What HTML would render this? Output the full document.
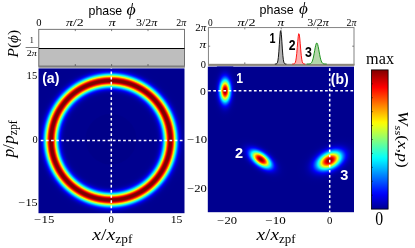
<!DOCTYPE html><html><head><meta charset="utf-8"><title>figure</title><style>html,body{margin:0;padding:0;background:#fff}svg{display:block}text{white-space:pre}</style></head><body>
<svg width="415" height="248" viewBox="0 0 415 248">
<defs>
<radialGradient id="ring" gradientUnits="userSpaceOnUse" cx="110.75" cy="140.30" r="110.00"><stop offset="0.0000" stop-color="#00008f"/><stop offset="0.3750" stop-color="#00008f"/><stop offset="0.3800" stop-color="#000090"/><stop offset="0.3950" stop-color="#000090"/><stop offset="0.4000" stop-color="#000091"/><stop offset="0.4050" stop-color="#000091"/><stop offset="0.4100" stop-color="#000092"/><stop offset="0.4150" stop-color="#000094"/><stop offset="0.4200" stop-color="#000096"/><stop offset="0.4250" stop-color="#00009a"/><stop offset="0.4300" stop-color="#00009f"/><stop offset="0.4350" stop-color="#0000a5"/><stop offset="0.4400" stop-color="#0000af"/><stop offset="0.4450" stop-color="#0000bb"/><stop offset="0.4500" stop-color="#0000cb"/><stop offset="0.4550" stop-color="#0000e0"/><stop offset="0.4600" stop-color="#0000fb"/><stop offset="0.4650" stop-color="#001cff"/><stop offset="0.4700" stop-color="#0044ff"/><stop offset="0.4750" stop-color="#0074ff"/><stop offset="0.4800" stop-color="#00abff"/><stop offset="0.4850" stop-color="#00e9ff"/><stop offset="0.4900" stop-color="#30ffcf"/><stop offset="0.4950" stop-color="#7bff84"/><stop offset="0.5000" stop-color="#caff35"/><stop offset="0.5050" stop-color="#ffe300"/><stop offset="0.5100" stop-color="#ff9300"/><stop offset="0.5150" stop-color="#ff4600"/><stop offset="0.5200" stop-color="#ff0100"/><stop offset="0.5250" stop-color="#c40000"/><stop offset="0.5300" stop-color="#940000"/><stop offset="0.5350" stop-color="#800000"/><stop offset="0.5500" stop-color="#800000"/><stop offset="0.5550" stop-color="#980000"/><stop offset="0.5600" stop-color="#c90000"/><stop offset="0.5650" stop-color="#ff0700"/><stop offset="0.5700" stop-color="#ff4d00"/><stop offset="0.5750" stop-color="#ff9a00"/><stop offset="0.5800" stop-color="#ffeb00"/><stop offset="0.5850" stop-color="#c3ff3c"/><stop offset="0.5900" stop-color="#74ff8b"/><stop offset="0.5950" stop-color="#29ffd6"/><stop offset="0.6000" stop-color="#00e3ff"/><stop offset="0.6050" stop-color="#00a5ff"/><stop offset="0.6100" stop-color="#006fff"/><stop offset="0.6150" stop-color="#0040ff"/><stop offset="0.6200" stop-color="#0019ff"/><stop offset="0.6250" stop-color="#0000f8"/><stop offset="0.6300" stop-color="#0000de"/><stop offset="0.6350" stop-color="#0000c9"/><stop offset="0.6400" stop-color="#0000ba"/><stop offset="0.6450" stop-color="#0000ae"/><stop offset="0.6500" stop-color="#0000a5"/><stop offset="0.6550" stop-color="#00009e"/><stop offset="0.6600" stop-color="#000099"/><stop offset="0.6650" stop-color="#000096"/><stop offset="0.6700" stop-color="#000094"/><stop offset="0.6750" stop-color="#000092"/><stop offset="0.6800" stop-color="#000091"/><stop offset="0.6850" stop-color="#000091"/><stop offset="0.6900" stop-color="#000090"/><stop offset="0.7050" stop-color="#000090"/><stop offset="0.7100" stop-color="#00008f"/><stop offset="1.0000" stop-color="#00008f"/></radialGradient>
<radialGradient id="bg1" gradientUnits="objectBoundingBox" cx="0.5" cy="0.5" r="0.5"><stop offset="0.0000" stop-color="#800000"/><stop offset="0.0167" stop-color="#820000"/><stop offset="0.0333" stop-color="#880000"/><stop offset="0.0500" stop-color="#930000"/><stop offset="0.0667" stop-color="#a30000"/><stop offset="0.0833" stop-color="#b60000"/><stop offset="0.1000" stop-color="#cd0000"/><stop offset="0.1167" stop-color="#e70000"/><stop offset="0.1333" stop-color="#ff0600"/><stop offset="0.1500" stop-color="#ff2600"/><stop offset="0.1667" stop-color="#ff4900"/><stop offset="0.1833" stop-color="#ff6d00"/><stop offset="0.2000" stop-color="#ff9300"/><stop offset="0.2167" stop-color="#ffbb00"/><stop offset="0.2333" stop-color="#ffe300"/><stop offset="0.2500" stop-color="#f2ff0d"/><stop offset="0.2667" stop-color="#caff35"/><stop offset="0.2833" stop-color="#a2ff5d"/><stop offset="0.3000" stop-color="#7aff85"/><stop offset="0.3167" stop-color="#54ffab"/><stop offset="0.3333" stop-color="#2effd1"/><stop offset="0.3500" stop-color="#0afff5"/><stop offset="0.3667" stop-color="#00e7ff"/><stop offset="0.3833" stop-color="#00c6ff"/><stop offset="0.4000" stop-color="#00a8ff"/><stop offset="0.4167" stop-color="#008bff"/><stop offset="0.4333" stop-color="#0070ff"/><stop offset="0.4500" stop-color="#0057ff"/><stop offset="0.4667" stop-color="#0040ff"/><stop offset="0.4833" stop-color="#002bff"/><stop offset="0.5000" stop-color="#0018ff"/><stop offset="0.5167" stop-color="#0007ff"/><stop offset="0.5333" stop-color="#0000f7"/><stop offset="0.5500" stop-color="#0000e9"/><stop offset="0.5667" stop-color="#0000dc"/><stop offset="0.5833" stop-color="#0000d1"/><stop offset="0.6000" stop-color="#0000c8"/><stop offset="0.6167" stop-color="#0000bf"/><stop offset="0.6333" stop-color="#0000b8"/><stop offset="0.6500" stop-color="#0000b2"/><stop offset="0.6667" stop-color="#0000ac"/><stop offset="0.6833" stop-color="#0000a7"/><stop offset="0.7000" stop-color="#0000a3"/><stop offset="0.7167" stop-color="#0000a0"/><stop offset="0.7333" stop-color="#00009d"/><stop offset="0.7500" stop-color="#00009b"/><stop offset="0.7667" stop-color="#000099"/><stop offset="0.7833" stop-color="#000097"/><stop offset="0.8000" stop-color="#000095"/><stop offset="0.8167" stop-color="#000094"/><stop offset="0.8333" stop-color="#000093"/><stop offset="0.8500" stop-color="#000093"/><stop offset="0.8667" stop-color="#000092"/><stop offset="0.8833" stop-color="#000091"/><stop offset="0.9000" stop-color="#000091"/><stop offset="0.9167" stop-color="#000091"/><stop offset="0.9333" stop-color="#000090"/><stop offset="0.9500" stop-color="#000090"/><stop offset="0.9667" stop-color="#000090"/><stop offset="0.9833" stop-color="#000090"/><stop offset="1.0000" stop-color="#000090"/></radialGradient>
<linearGradient id="cb" x1="0" y1="0" x2="0" y2="1"><stop offset="0.0000" stop-color="#800000"/><stop offset="0.0250" stop-color="#990000"/><stop offset="0.0500" stop-color="#b20000"/><stop offset="0.0750" stop-color="#cb0000"/><stop offset="0.1000" stop-color="#e40000"/><stop offset="0.1250" stop-color="#fd0000"/><stop offset="0.1500" stop-color="#ff1700"/><stop offset="0.1750" stop-color="#ff3000"/><stop offset="0.2000" stop-color="#ff4900"/><stop offset="0.2250" stop-color="#ff6200"/><stop offset="0.2500" stop-color="#ff7c00"/><stop offset="0.2750" stop-color="#ff9500"/><stop offset="0.3000" stop-color="#ffae00"/><stop offset="0.3250" stop-color="#ffc700"/><stop offset="0.3500" stop-color="#ffe000"/><stop offset="0.3750" stop-color="#fff900"/><stop offset="0.4000" stop-color="#ecff13"/><stop offset="0.4250" stop-color="#d3ff2c"/><stop offset="0.4500" stop-color="#baff45"/><stop offset="0.4750" stop-color="#a1ff5e"/><stop offset="0.5000" stop-color="#87ff78"/><stop offset="0.5250" stop-color="#6eff91"/><stop offset="0.5500" stop-color="#55ffaa"/><stop offset="0.5750" stop-color="#3cffc3"/><stop offset="0.6000" stop-color="#23ffdc"/><stop offset="0.6250" stop-color="#0afff5"/><stop offset="0.6500" stop-color="#00f0ff"/><stop offset="0.6750" stop-color="#00d7ff"/><stop offset="0.7000" stop-color="#00beff"/><stop offset="0.7250" stop-color="#00a5ff"/><stop offset="0.7500" stop-color="#008bff"/><stop offset="0.7750" stop-color="#0072ff"/><stop offset="0.8000" stop-color="#0059ff"/><stop offset="0.8250" stop-color="#0040ff"/><stop offset="0.8500" stop-color="#0027ff"/><stop offset="0.8750" stop-color="#000eff"/><stop offset="0.9000" stop-color="#0000f4"/><stop offset="0.9250" stop-color="#0000db"/><stop offset="0.9500" stop-color="#0000c2"/><stop offset="0.9750" stop-color="#0000a9"/><stop offset="1.0000" stop-color="#00008f"/></linearGradient>
</defs>
<rect width="415" height="248" fill="#fff"/>
<rect x="38.80" y="48.50" width="145.70" height="17.70" fill="#bebebe"/>
<rect x="38.80" y="29.30" width="145.70" height="36.90" fill="none" stroke="#555" stroke-width="0.8"/>
<line x1="38.80" y1="48.50" x2="184.50" y2="48.50" stroke="#000" stroke-width="1.1"/>
<rect x="38.40" y="65.7" width="146.50" height="2.0" fill="#808080"/>
<line x1="75.30" y1="29.30" x2="75.30" y2="31.10" stroke="#444" stroke-width="0.7"/>
<line x1="75.30" y1="65.80" x2="75.30" y2="64.20" stroke="#333" stroke-width="0.7"/>
<line x1="111.60" y1="29.30" x2="111.60" y2="31.10" stroke="#444" stroke-width="0.7"/>
<line x1="111.60" y1="65.80" x2="111.60" y2="64.20" stroke="#333" stroke-width="0.7"/>
<line x1="148.00" y1="29.30" x2="148.00" y2="31.10" stroke="#444" stroke-width="0.7"/>
<line x1="148.00" y1="65.80" x2="148.00" y2="64.20" stroke="#333" stroke-width="0.7"/>
<rect x="38.50" y="68.40" width="146.00" height="144.80" fill="url(#ring)"/>
<circle cx="111" cy="139.3" r="25.5" fill="#000040" opacity="0.07"/>
<line x1="38.50" y1="140.5" x2="184.50" y2="140.5" stroke="#fff" stroke-width="1.5" stroke-dasharray="2.7 2.45" stroke-dashoffset="2.9"/>
<line x1="111.3" y1="68.40" x2="111.3" y2="213.20" stroke="#fff" stroke-width="1.5" stroke-dasharray="2.7 2.45" stroke-dashoffset="2.0"/>
<rect x="208.40" y="27.60" width="145.60" height="37.10" fill="#fff" stroke="#777" stroke-width="0.9"/>
<rect x="208.00" y="63.8" width="146.40" height="2.1" fill="#8c877c"/>
<line x1="244.80" y1="27.60" x2="244.80" y2="29.40" stroke="#555" stroke-width="0.7"/>
<line x1="244.80" y1="64.00" x2="244.80" y2="62.40" stroke="#444" stroke-width="0.7"/>
<line x1="281.20" y1="27.60" x2="281.20" y2="29.40" stroke="#555" stroke-width="0.7"/>
<line x1="281.20" y1="64.00" x2="281.20" y2="62.40" stroke="#444" stroke-width="0.7"/>
<line x1="317.60" y1="27.60" x2="317.60" y2="29.40" stroke="#555" stroke-width="0.7"/>
<line x1="317.60" y1="64.00" x2="317.60" y2="62.40" stroke="#444" stroke-width="0.7"/>
<line x1="208.40" y1="46.2" x2="210.20" y2="46.2" stroke="#555" stroke-width="0.7"/>
<line x1="354.00" y1="46.2" x2="352.20" y2="46.2" stroke="#555" stroke-width="0.7"/>
<path d="M274.85,64.00 L275.35,63.99 L275.85,63.97 L276.35,63.88 L276.85,63.58 L277.35,62.78 L277.85,60.95 L278.35,57.42 L278.85,51.76 L279.35,44.35 L279.85,36.79 L280.35,31.50 L280.85,30.52 L281.35,34.26 L281.85,41.21 L282.35,48.94 L282.85,55.42 L283.35,59.78 L283.85,62.21 L284.35,63.35 L284.85,63.79 L285.35,63.94 L285.85,63.99 L286.35,64.00 Z" fill="#b4b4b4" stroke="none"/>
<path d="M274.85,64.00 L275.35,63.99 L275.85,63.97 L276.35,63.88 L276.85,63.58 L277.35,62.78 L277.85,60.95 L278.35,57.42 L278.85,51.76 L279.35,44.35 L279.85,36.79 L280.35,31.50 L280.85,30.52 L281.35,34.26 L281.85,41.21 L282.35,48.94 L282.85,55.42 L283.35,59.78 L283.85,62.21 L284.35,63.35 L284.85,63.79 L285.35,63.94 L285.85,63.99 L286.35,64.00" fill="none" stroke="#000" stroke-width="0.9"/>
<path d="M292.24,64.00 L292.74,63.99 L293.24,63.98 L293.74,63.93 L294.24,63.79 L294.74,63.41 L295.24,62.57 L295.74,60.88 L296.24,57.93 L296.74,53.49 L297.24,47.74 L297.74,41.57 L298.24,36.39 L298.74,33.68 L299.24,34.29 L299.74,38.04 L300.24,43.76 L300.74,49.92 L301.24,55.26 L301.74,59.16 L302.24,61.61 L302.74,62.95 L303.24,63.59 L303.74,63.85 L304.24,63.95 L304.74,63.99 L305.24,64.00 Z" fill="#f9b0b0" stroke="none"/>
<path d="M292.24,64.00 L292.74,63.99 L293.24,63.98 L293.74,63.93 L294.24,63.79 L294.74,63.41 L295.24,62.57 L295.74,60.88 L296.24,57.93 L296.74,53.49 L297.24,47.74 L297.74,41.57 L298.24,36.39 L298.74,33.68 L299.24,34.29 L299.74,38.04 L300.24,43.76 L300.74,49.92 L301.24,55.26 L301.74,59.16 L302.24,61.61 L302.74,62.95 L303.24,63.59 L303.74,63.85 L304.24,63.95 L304.74,63.99 L305.24,64.00" fill="none" stroke="#f00" stroke-width="0.9"/>
<path d="M306.68,64.00 L307.18,64.00 L307.68,63.99 L308.18,63.99 L308.68,63.97 L309.18,63.93 L309.68,63.86 L310.18,63.72 L310.68,63.48 L311.18,63.08 L311.68,62.43 L312.18,61.46 L312.68,60.09 L313.18,58.26 L313.68,56.00 L314.18,53.37 L314.68,50.56 L315.18,47.82 L315.68,45.47 L316.18,43.79 L316.68,43.03 L317.18,43.29 L317.68,44.53 L318.18,46.58 L318.68,49.16 L319.18,51.97 L319.68,54.72 L320.18,57.18 L320.68,59.23 L321.18,60.83 L321.68,61.99 L322.18,62.79 L322.68,63.31 L323.18,63.62 L323.68,63.80 L324.18,63.90 L324.68,63.95 L325.18,63.98 L325.68,63.99 L326.18,64.00 L326.68,64.00 Z" fill="#b4d6aa" stroke="none"/>
<path d="M306.68,64.00 L307.18,64.00 L307.68,63.99 L308.18,63.99 L308.68,63.97 L309.18,63.93 L309.68,63.86 L310.18,63.72 L310.68,63.48 L311.18,63.08 L311.68,62.43 L312.18,61.46 L312.68,60.09 L313.18,58.26 L313.68,56.00 L314.18,53.37 L314.68,50.56 L315.18,47.82 L315.68,45.47 L316.18,43.79 L316.68,43.03 L317.18,43.29 L317.68,44.53 L318.18,46.58 L318.68,49.16 L319.18,51.97 L319.68,54.72 L320.18,57.18 L320.68,59.23 L321.18,60.83 L321.68,61.99 L322.18,62.79 L322.68,63.31 L323.18,63.62 L323.68,63.80 L324.18,63.90 L324.68,63.95 L325.18,63.98 L325.68,63.99 L326.18,64.00 L326.68,64.00" fill="none" stroke="#0a8a0a" stroke-width="0.9"/>
<rect x="207.80" y="66.60" width="146.20" height="145.60" fill="#00008f"/>
<clipPath id="rc"><rect x="207.80" y="66.60" width="146.20" height="145.60"/></clipPath>
<g clip-path="url(#rc)">
<ellipse cx="0" cy="0" rx="30.00" ry="14.00" fill="url(#bg1)" transform="translate(225.10 90.80) rotate(90.00)"/>
<ellipse cx="0" cy="0" rx="31.20" ry="15.60" fill="url(#bg1)" transform="translate(260.90 159.40) rotate(36.50)"/>
<ellipse cx="0" cy="0" rx="34.80" ry="20.80" fill="url(#bg1)" transform="translate(329.40 160.50) rotate(-27.00)"/>
</g>
<line x1="208.20" y1="90.8" x2="354.00" y2="90.8" stroke="#fff" stroke-width="1.5" stroke-dasharray="2.7 2.38"/>
<line x1="329.7" y1="66.60" x2="329.7" y2="212.20" stroke="#fff" stroke-width="1.5" stroke-dasharray="2.7 2.38" stroke-dashoffset="3.4"/>
<rect x="371.40" y="69.90" width="16.70" height="139.20" fill="url(#cb)" stroke="#000" stroke-width="0.8"/>
<line x1="371.40" y1="83.82" x2="373.00" y2="83.82" stroke="#000" stroke-width="0.4"/>
<line x1="371.40" y1="97.74" x2="373.00" y2="97.74" stroke="#000" stroke-width="0.4"/>
<line x1="371.40" y1="111.66" x2="373.00" y2="111.66" stroke="#000" stroke-width="0.4"/>
<line x1="371.40" y1="125.58" x2="373.00" y2="125.58" stroke="#000" stroke-width="0.4"/>
<line x1="371.40" y1="139.50" x2="373.00" y2="139.50" stroke="#000" stroke-width="0.4"/>
<line x1="371.40" y1="153.42" x2="373.00" y2="153.42" stroke="#000" stroke-width="0.4"/>
<line x1="371.40" y1="167.34" x2="373.00" y2="167.34" stroke="#000" stroke-width="0.4"/>
<line x1="371.40" y1="181.26" x2="373.00" y2="181.26" stroke="#000" stroke-width="0.4"/>
<line x1="371.40" y1="195.18" x2="373.00" y2="195.18" stroke="#000" stroke-width="0.4"/>
<text x="88.50" y="14.50" textLength="33.70" lengthAdjust="spacingAndGlyphs" style="font-family:'Liberation Sans','DejaVu Sans',sans-serif;font-size:12.8px" >phase</text>
<text x="126.60" y="14.80" textLength="9.20" lengthAdjust="spacingAndGlyphs" style="font-family:'Liberation Serif','DejaVu Serif',serif;font-style:italic;font-size:16.6px" >ϕ</text>
<text x="259.60" y="13.80" textLength="34.10" lengthAdjust="spacingAndGlyphs" style="font-family:'Liberation Sans','DejaVu Sans',sans-serif;font-size:12.8px" >phase</text>
<text x="299.00" y="13.60" textLength="8.80" lengthAdjust="spacingAndGlyphs" style="font-family:'Liberation Serif','DejaVu Serif',serif;font-style:italic;font-size:16.6px" >ϕ</text>
<text x="36.30" y="26.40" textLength="5.30" lengthAdjust="spacingAndGlyphs" style="font-family:'Liberation Serif','DejaVu Serif',serif;font-size:10.3px" >0</text>
<text x="66.00" y="26.40" textLength="17.70" lengthAdjust="spacingAndGlyphs" style="font-family:'Liberation Serif','DejaVu Serif',serif;font-size:10.3px" ><tspan style="font-style:italic">π</tspan>/2</text>
<text x="108.70" y="26.40" textLength="6.90" lengthAdjust="spacingAndGlyphs" style="font-family:'Liberation Serif','DejaVu Serif',serif;font-size:10.3px" ><tspan style="font-style:italic">π</tspan></text>
<text x="136.00" y="26.40" textLength="21.40" lengthAdjust="spacingAndGlyphs" style="font-family:'Liberation Serif','DejaVu Serif',serif;font-size:10.3px" >3/2<tspan style="font-style:italic">π</tspan></text>
<text x="176.30" y="26.40" textLength="10.00" lengthAdjust="spacingAndGlyphs" style="font-family:'Liberation Serif','DejaVu Serif',serif;font-size:10.3px" >2<tspan style="font-style:italic">π</tspan></text>
<text x="29.80" y="43.40" textLength="4.00" lengthAdjust="spacingAndGlyphs" style="font-family:'Liberation Serif','DejaVu Serif',serif;font-size:8.5px" >1</text>
<line x1="25.6" y1="47.5" x2="38.1" y2="47.5" stroke="#000" stroke-width="0.5"/>
<text x="26.70" y="55.60" textLength="10.20" lengthAdjust="spacingAndGlyphs" style="font-family:'Liberation Serif','DejaVu Serif',serif;font-size:7.8px" >2<tspan style="font-style:italic">π</tspan></text>
<text transform="translate(18.00 57.50) rotate(-90)" textLength="27.60" lengthAdjust="spacingAndGlyphs" style="font-family:'Liberation Serif','DejaVu Serif',serif;font-size:15px"><tspan style="font-style:italic">P</tspan>(<tspan style="font-style:italic">ϕ</tspan>)</text>
<text x="26.60" y="79.00" textLength="10.60" lengthAdjust="spacingAndGlyphs" style="font-family:'Liberation Serif','DejaVu Serif',serif;font-size:10.3px" >15</text>
<text x="32.60" y="143.00" textLength="5.20" lengthAdjust="spacingAndGlyphs" style="font-family:'Liberation Serif','DejaVu Serif',serif;font-size:10.3px" >0</text>
<text x="18.50" y="205.90" textLength="19.10" lengthAdjust="spacingAndGlyphs" style="font-family:'Liberation Serif','DejaVu Serif',serif;font-size:10.3px" >−15</text>
<text x="34.30" y="222.80" textLength="20.00" lengthAdjust="spacingAndGlyphs" style="font-family:'Liberation Serif','DejaVu Serif',serif;font-size:10.3px" >−15</text>
<text x="108.50" y="222.80" textLength="5.40" lengthAdjust="spacingAndGlyphs" style="font-family:'Liberation Serif','DejaVu Serif',serif;font-size:10.3px" >0</text>
<text x="170.70" y="222.80" textLength="11.70" lengthAdjust="spacingAndGlyphs" style="font-family:'Liberation Serif','DejaVu Serif',serif;font-size:10.3px" >15</text>
<text transform="translate(14.40 157.60) rotate(-90)" textLength="37.40" lengthAdjust="spacingAndGlyphs" style="font-family:'Liberation Serif','DejaVu Serif',serif;font-size:17px"><tspan style="font-style:italic">p</tspan>/<tspan style="font-style:italic">p</tspan><tspan dy="3.0" style="font-size:11.5px">zpf</tspan></text>
<text x="92.30" y="239.80" textLength="40.10" lengthAdjust="spacingAndGlyphs" style="font-family:'Liberation Serif','DejaVu Serif',serif;font-size:17px" ><tspan style="font-style:italic">x</tspan>/<tspan style="font-style:italic">x</tspan><tspan dy="3.0" style="font-size:11.5px">zpf</tspan></text>
<text x="256.60" y="240.30" textLength="39.00" lengthAdjust="spacingAndGlyphs" style="font-family:'Liberation Serif','DejaVu Serif',serif;font-size:17px" ><tspan style="font-style:italic">x</tspan>/<tspan style="font-style:italic">x</tspan><tspan dy="3.0" style="font-size:11.5px">zpf</tspan></text>
<text x="42.20" y="83.00" textLength="17.20" lengthAdjust="spacingAndGlyphs" style="font-family:'Liberation Sans','DejaVu Sans',sans-serif;font-weight:bold;font-size:14.5px;fill:#fff" >(a)</text>
<text x="330.80" y="83.80" textLength="17.90" lengthAdjust="spacingAndGlyphs" style="font-family:'Liberation Sans','DejaVu Sans',sans-serif;font-weight:bold;font-size:14.5px;fill:#fff" >(b)</text>
<text x="236.20" y="82.70" textLength="6.80" lengthAdjust="spacingAndGlyphs" style="font-family:'Liberation Sans','DejaVu Sans',sans-serif;font-weight:bold;font-size:14px;fill:#fff" >1</text>
<text x="235.00" y="157.60" textLength="8.10" lengthAdjust="spacingAndGlyphs" style="font-family:'Liberation Sans','DejaVu Sans',sans-serif;font-weight:bold;font-size:14px;fill:#fff" >2</text>
<text x="340.30" y="180.20" textLength="8.10" lengthAdjust="spacingAndGlyphs" style="font-family:'Liberation Sans','DejaVu Sans',sans-serif;font-weight:bold;font-size:14px;fill:#fff" >3</text>
<text x="269.60" y="43.20" textLength="6.00" lengthAdjust="spacingAndGlyphs" style="font-family:'Liberation Sans','DejaVu Sans',sans-serif;font-weight:bold;font-size:14px;fill:#000" >1</text>
<text x="288.80" y="50.20" textLength="6.80" lengthAdjust="spacingAndGlyphs" style="font-family:'Liberation Sans','DejaVu Sans',sans-serif;font-weight:bold;font-size:14px;fill:#000" >2</text>
<text x="304.90" y="57.30" textLength="6.90" lengthAdjust="spacingAndGlyphs" style="font-family:'Liberation Sans','DejaVu Sans',sans-serif;font-weight:bold;font-size:14px;fill:#000" >3</text>
<text x="207.90" y="26.30" textLength="4.70" lengthAdjust="spacingAndGlyphs" style="font-family:'Liberation Serif','DejaVu Serif',serif;font-size:10.3px" >0</text>
<text x="237.40" y="26.00" textLength="18.10" lengthAdjust="spacingAndGlyphs" style="font-family:'Liberation Serif','DejaVu Serif',serif;font-size:10.3px" ><tspan style="font-style:italic">π</tspan>/2</text>
<text x="277.60" y="26.00" textLength="6.70" lengthAdjust="spacingAndGlyphs" style="font-family:'Liberation Serif','DejaVu Serif',serif;font-size:10.3px" ><tspan style="font-style:italic">π</tspan></text>
<text x="307.30" y="26.00" textLength="21.50" lengthAdjust="spacingAndGlyphs" style="font-family:'Liberation Serif','DejaVu Serif',serif;font-size:10.3px" >3/2<tspan style="font-style:italic">π</tspan></text>
<text x="346.60" y="26.00" textLength="9.90" lengthAdjust="spacingAndGlyphs" style="font-family:'Liberation Serif','DejaVu Serif',serif;font-size:10.3px" >2<tspan style="font-style:italic">π</tspan></text>
<text x="195.20" y="30.50" textLength="11.00" lengthAdjust="spacingAndGlyphs" style="font-family:'Liberation Serif','DejaVu Serif',serif;font-size:10.3px" >2<tspan style="font-style:italic">π</tspan></text>
<text x="199.50" y="48.30" textLength="6.70" lengthAdjust="spacingAndGlyphs" style="font-family:'Liberation Serif','DejaVu Serif',serif;font-size:10.3px" ><tspan style="font-style:italic">π</tspan></text>
<text x="200.80" y="67.60" textLength="5.20" lengthAdjust="spacingAndGlyphs" style="font-family:'Liberation Serif','DejaVu Serif',serif;font-size:10.3px" >0</text>
<text x="200.00" y="94.60" textLength="5.80" lengthAdjust="spacingAndGlyphs" style="font-family:'Liberation Serif','DejaVu Serif',serif;font-size:10.3px" >0</text>
<text x="187.20" y="143.40" textLength="20.00" lengthAdjust="spacingAndGlyphs" style="font-family:'Liberation Serif','DejaVu Serif',serif;font-size:10.3px" >−10</text>
<text x="187.20" y="192.20" textLength="19.70" lengthAdjust="spacingAndGlyphs" style="font-family:'Liberation Serif','DejaVu Serif',serif;font-size:10.3px" >−20</text>
<text x="217.30" y="223.50" textLength="19.70" lengthAdjust="spacingAndGlyphs" style="font-family:'Liberation Serif','DejaVu Serif',serif;font-size:10.3px" >−20</text>
<text x="265.40" y="223.50" textLength="20.40" lengthAdjust="spacingAndGlyphs" style="font-family:'Liberation Serif','DejaVu Serif',serif;font-size:10.3px" >−10</text>
<text x="327.00" y="223.50" textLength="5.40" lengthAdjust="spacingAndGlyphs" style="font-family:'Liberation Serif','DejaVu Serif',serif;font-size:10.3px" >0</text>
<text x="366.10" y="64.00" textLength="27.90" lengthAdjust="spacingAndGlyphs" style="font-family:'Liberation Serif','DejaVu Serif',serif;font-size:16.5px" >max</text>
<text x="375.30" y="224.70" textLength="7.90" lengthAdjust="spacingAndGlyphs" style="font-family:'Liberation Serif','DejaVu Serif',serif;font-size:18.6px" >0</text>
<text transform="translate(398.30 111.00) rotate(90)" textLength="56.80" lengthAdjust="spacingAndGlyphs" style="font-family:'Liberation Serif','DejaVu Serif',serif;font-size:15.5px"><tspan style="font-style:italic">W</tspan><tspan dy="2.8" style="font-size:11px;font-style:italic">ss</tspan><tspan dy="-2.8">(</tspan><tspan style="font-style:italic">x</tspan>,<tspan style="font-style:italic">p</tspan>)</text>
</svg></body></html>
